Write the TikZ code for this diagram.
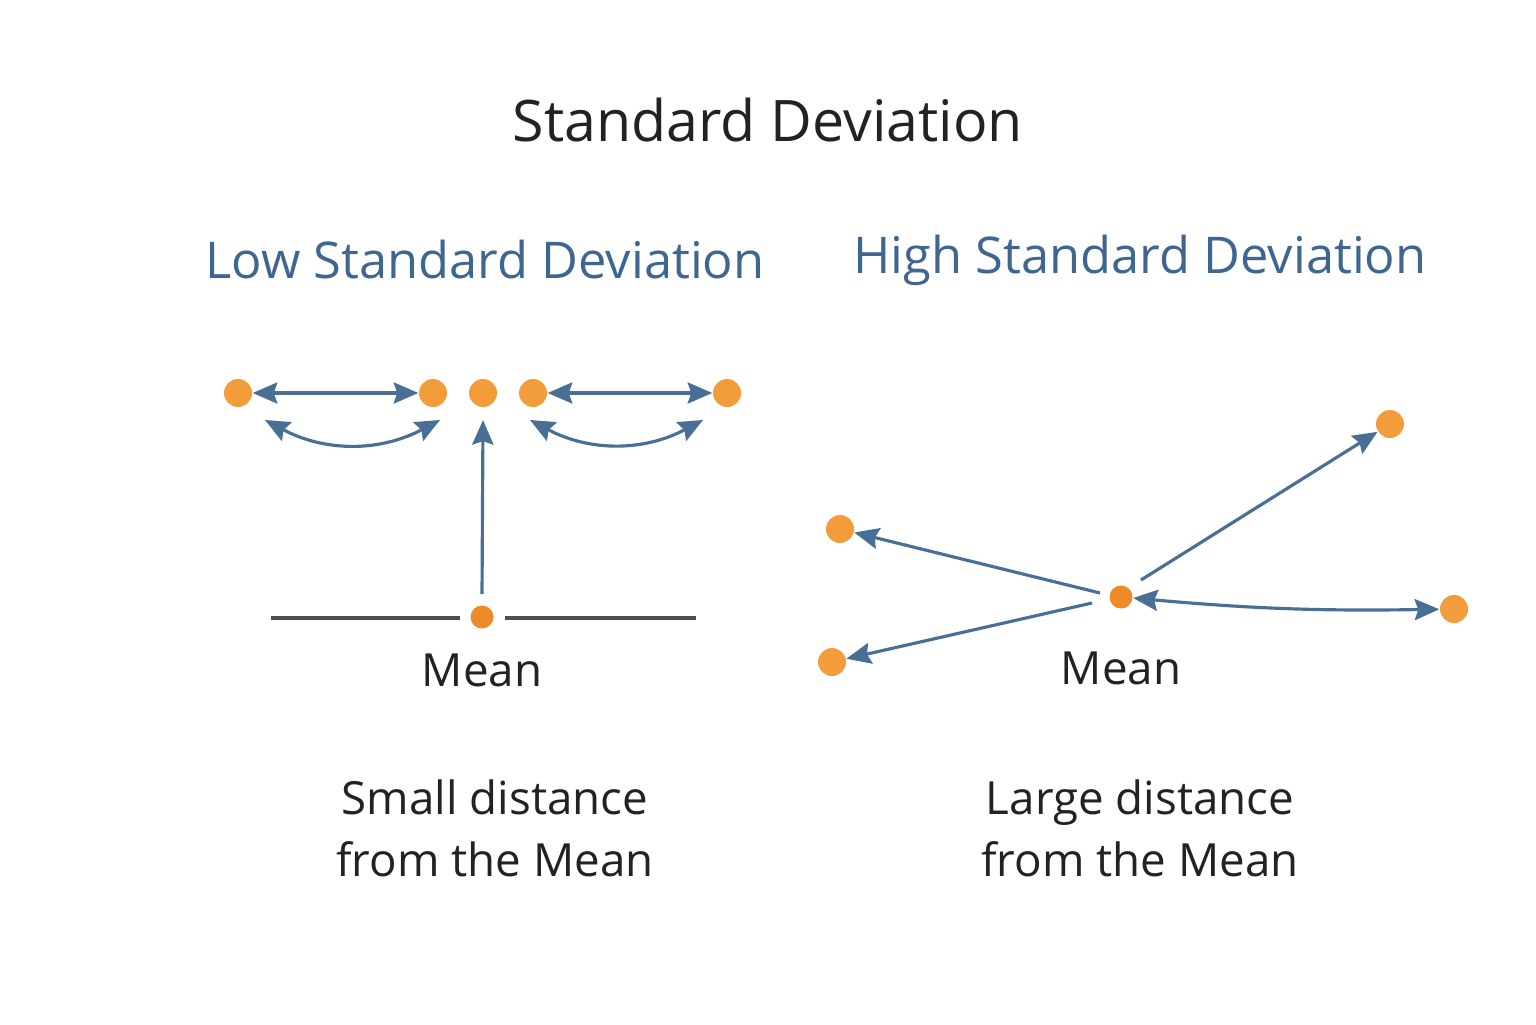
\documentclass[tikz,border=0pt]{standalone}
\usepackage{fontspec}
\setmainfont{Open Sans}
\usetikzlibrary{arrows.meta}
\definecolor{dotorange}{HTML}{F39C3C}
\definecolor{meanorange}{HTML}{EE8A2A}
\definecolor{arrowblue}{HTML}{4A6F96}
\definecolor{headblue}{HTML}{3F6690}
\definecolor{inkdark}{HTML}{222222}
\tikzset{
  pt/.style={circle,fill=dotorange,inner sep=0pt,minimum size=0.28cm},
  meanpt/.style={circle,fill=meanorange,inner sep=0pt,minimum size=0.23cm},
  link/.style={draw=arrowblue,line width=0.9pt,-{Stealth[length=7pt,width=6pt,inset=1pt]}},
  twolink/.style={link,{Stealth[length=7pt,width=6pt,inset=1pt]}-{Stealth[length=7pt,width=6pt,inset=1pt]}},
  lbl/.style={text=inkdark,font=\fontsize{13}{17.6}\selectfont},
}
\begin{document}
\begin{tikzpicture}
\useasboundingbox (0,0) rectangle (15.36,10.24);
\node[text=inkdark,font=\fontsize{16.3}{20}\selectfont] (title) at (7.68,9.04) {Standard Deviation};
\node[text=headblue,font=\fontsize{14.4}{18}\selectfont] (lowhead) at (4.85,7.64) {Low Standard Deviation};
\node[text=headblue,font=\fontsize{14.4}{18}\selectfont] (highhead) at (11.40,7.64) {High Standard Deviation};

% low deviation
\node[pt] (l1) at (2.38,6.31) {};
\node[pt] (l2) at (4.33,6.31) {};
\node[pt] (l3) at (4.83,6.31) {};
\node[pt] (l4) at (5.33,6.31) {};
\node[pt] (l5) at (7.27,6.31) {};
\node[meanpt] (lm) at (4.82,4.07) {};
\coordinate (la) at (2.71,4.06);
\coordinate (lb) at (4.60,4.06);
\coordinate (lc) at (5.05,4.06);
\coordinate (ld) at (6.96,4.06);
\draw[inkdark!80,line width=1pt] (la) -- (lb) (lc) -- (ld);
\draw[twolink] (l1) -- (l2);
\draw[twolink] (l4) -- (l5);
\draw[twolink] ([shift={(0.27,-0.27)}]l1.center) to[bend right=28] ([shift={(0.07,-0.27)}]l2.center);
\draw[twolink] ([shift={(-0.03,-0.27)}]l4.center) to[bend right=28] ([shift={(-0.24,-0.27)}]l5.center);
\draw[link] ([yshift=0.23cm]lm.center) -- ([yshift=-0.27cm]l3.center);
\node[lbl] (lmean) at (4.82,3.54) {Mean};
\node[lbl,align=center] (lnote) at (4.95,1.96) {Small distance\\ from the Mean};

% high deviation
\node[meanpt] (hm) at (11.21,4.27) {};
\node[pt] (h1) at (8.40,4.95) {};
\node[pt] (h2) at (8.32,3.62) {};
\node[pt] (h3) at (13.90,6.00) {};
\node[pt] (h4) at (14.54,4.15) {};
\draw[link] (hm) ++(-0.21,0.04) -- (h1);
\draw[link] (hm) ++(-0.29,-0.06) -- (h2);
\draw[link] (hm) ++(0.2,0.17) -- (h3);
\draw[twolink] (hm) to[bend right=3] (h4);
\node[lbl] (hmean) at (11.21,3.56) {Mean};
\node[lbl,align=center] (hnote) at (11.40,1.96) {Large distance\\ from the Mean};
\end{tikzpicture}
\end{document}
